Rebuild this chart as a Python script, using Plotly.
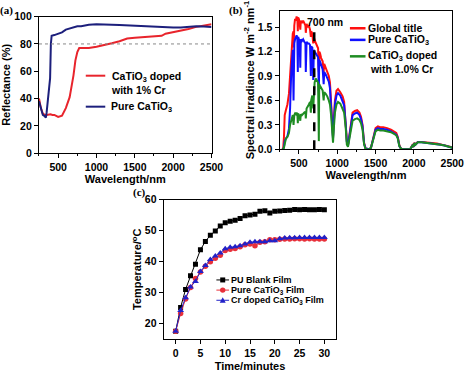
import plotly.graph_objects as go

W, H = 474, 375

# ---------------- Panel (a): reflectance ----------------
wl_doped = [250, 275, 300, 325, 350, 375, 400, 425, 450, 500, 550, 600, 650, 700, 725, 750, 775,
            800, 850, 875, 900, 1000, 1100, 1200, 1300, 1400, 1500, 1600, 1700, 1800, 1850,
            1900, 2000, 2100, 2200, 2300, 2400, 2500]
refl_doped = [40, 33, 29, 28, 28, 28.5, 28.5, 28, 28, 26.5, 27.5, 33, 41, 57, 68, 74, 77,
              77, 77, 77.5, 77, 78, 79, 80.5, 82, 84, 84.5, 85, 85.5, 86, 86,
              87.5, 88.5, 89.5, 91, 92.5, 93.5, 94.5]

wl_pure = [250, 275, 300, 325, 340, 350, 370, 385, 395, 405, 415, 450, 500, 550, 600, 650, 700,
           750, 800, 850, 875, 900, 1000, 1100, 1200, 1300, 1400, 1500, 1600, 1700, 1800,
           1900, 2000, 2100, 2200, 2300, 2400, 2500]
refl_pure = [38, 32, 28, 27, 26, 30, 40, 48, 55, 80, 86, 86.5, 87.5, 88.5, 90.5, 91.5, 92.5,
             93, 93, 93.5, 94, 94, 94.5, 94.5, 94, 93.8, 93.5, 93.3, 93, 93, 92.8,
             92.3, 92, 92, 92.5, 93, 92.8, 92.5]

# ---------------- Panel (b): spectral irradiance ----------------
wl_b = [280, 295, 305, 315, 330, 350, 370, 385, 400, 410,
        420, 430, 432, 440, 450, 460, 470, 480, 486, 490,
        500, 510, 518, 525, 540, 555, 570, 585, 590, 600,
        615, 630, 645, 656, 660, 675, 687, 695, 705, 720,
        735, 750, 760, 765, 775, 790, 810, 823, 830, 850,
        870, 890, 905, 920, 935, 945, 955, 970, 990, 1010,
        1040, 1070, 1090, 1110, 1125, 1140, 1160, 1180, 1200, 1230,
        1260, 1290, 1310, 1330, 1350, 1370, 1400, 1420, 1440, 1460,
        1480, 1500, 1530, 1560, 1600, 1650, 1700, 1740, 1770, 1790,
        1810, 1830, 1850, 1950, 1960, 1980, 1995, 2005, 2020, 2050,
        2100, 2150, 2200, 2250, 2300, 2350, 2400, 2450, 2480, 2500]
irr_global = [0, 0.01, 0.15, 0.42, 0.48, 0.55, 0.68, 0.9, 1.2, 1.35,
              1.42, 1.45, 1.25, 1.52, 1.6, 1.58, 1.63, 1.6, 1.45, 1.62,
              1.6, 1.55, 1.47, 1.58, 1.55, 1.58, 1.55, 1.52, 1.43, 1.54,
              1.5, 1.52, 1.47, 1.38, 1.45, 1.42, 1.3, 1.38, 1.34, 1.3,
              1.27, 1.24, 0.95, 1.2, 1.18, 1.12, 1.08, 0.95, 1.05, 1.0,
              0.95, 0.9, 0.82, 0.6, 0.3, 0.15, 0.35, 0.6, 0.72, 0.74,
              0.7, 0.65, 0.58, 0.35, 0.1, 0.05, 0.2, 0.35, 0.45, 0.47,
              0.48, 0.45, 0.4, 0.3, 0.08, 0.01, 0, 0, 0.02, 0.1,
              0.2, 0.26, 0.28, 0.27, 0.27, 0.26, 0.24, 0.22, 0.2, 0.15,
              0.05, 0.01, 0, 0, 0.02, 0.05, 0.03, 0.08, 0.06, 0.09,
              0.09, 0.085, 0.085, 0.08, 0.07, 0.06, 0.05, 0.04, 0.03, 0.02]
irr_pure = [0, 0, 0.03, 0.1, 0.13, 0.16, 0.25, 0.5, 0.95, 1.15,
            1.22, 0.6, 1.1, 1.3, 1.35, 1.38, 1.4, 1.35, 0.95, 1.38,
            1.36, 1.32, 1.0, 1.35, 1.33, 1.35, 1.32, 1.3, 0.95, 1.32,
            1.3, 1.3, 1.28, 0.9, 1.26, 1.25, 0.85, 1.22, 1.2, 1.17,
            1.15, 1.13, 0.7, 1.1, 1.08, 1.03, 0.98, 0.8, 0.95, 0.92,
            0.88, 0.83, 0.75, 0.55, 0.27, 0.13, 0.32, 0.55, 0.66, 0.69,
            0.66, 0.6, 0.54, 0.32, 0.09, 0.04, 0.18, 0.32, 0.42, 0.44,
            0.45, 0.42, 0.37, 0.28, 0.07, 0.01, 0, 0, 0.02, 0.09,
            0.18, 0.24, 0.26, 0.25, 0.25, 0.24, 0.22, 0.2, 0.18, 0.14,
            0.04, 0.01, 0, 0, 0.02, 0.045, 0.03, 0.075, 0.055, 0.085,
            0.085, 0.08, 0.08, 0.075, 0.065, 0.056, 0.047, 0.037, 0.028, 0.019]
irr_doped = [0, 0, 0.02, 0.08, 0.13, 0.15, 0.2, 0.3, 0.36, 0.4,
             0.42, 0.3, 0.38, 0.42, 0.44, 0.43, 0.45, 0.43, 0.32, 0.44,
             0.42, 0.4, 0.35, 0.43, 0.42, 0.44, 0.45, 0.46, 0.38, 0.5,
             0.52, 0.55, 0.58, 0.45, 0.6, 0.66, 0.5, 0.72, 0.82, 0.87,
             0.85, 0.82, 0.1, 0.8, 0.78, 0.75, 0.72, 0.6, 0.7, 0.68,
             0.65, 0.6, 0.55, 0.42, 0.2, 0.08, 0.25, 0.45, 0.55, 0.58,
             0.56, 0.5, 0.45, 0.27, 0.06, 0.03, 0.15, 0.27, 0.35, 0.37,
             0.38, 0.36, 0.32, 0.24, 0.06, 0.0, 0, 0, 0.02, 0.08,
             0.17, 0.22, 0.24, 0.23, 0.23, 0.22, 0.21, 0.19, 0.17, 0.13,
             0.04, 0.01, 0, 0, 0.02, 0.045, 0.03, 0.075, 0.055, 0.085,
             0.085, 0.08, 0.08, 0.075, 0.065, 0.056, 0.047, 0.037, 0.028, 0.019]
marker_wl = 700

# ---------------- Panel (c): temperature ----------------
minutes = [0, 1, 2, 3, 4, 5, 6, 7, 8, 9, 10, 11, 12, 13, 14, 15, 16, 17, 18, 19, 20,
           21, 22, 23, 24, 25, 26, 27, 28, 29, 30]
temp_blank = [17.5, 25.2, 31.0, 35.4, 39.1, 43.8, 46.5, 48.5, 49.9, 51.5, 52.5, 53.0, 53.3, 53.9,
              54.8, 55.0, 55.3, 56.2, 56.4, 55.7, 56.2, 56.3, 56.5, 56.6, 56.8, 56.7, 56.8, 56.7,
              56.7, 56.8, 56.7]
temp_pure = [17.5, 23.2, 27.9, 31.6, 34.5, 36.6, 38.5, 39.9, 41.1, 42.0, 43.6, 44.0, 44.2, 44.8,
             45.4, 45.7, 45.1, 46.2, 46.4, 47.0, 47.0, 47.2, 47.3, 47.3, 47.4, 47.4, 47.3, 47.4,
             47.3, 47.3, 47.3]
temp_doped = [17.5, 24.2, 28.3, 31.8, 33.6, 36.8, 38.7, 40.7, 41.8, 42.8, 44.1, 44.6, 44.8, 45.1,
              45.7, 46.2, 46.4, 46.4, 46.4, 46.7, 46.7, 47.4, 47.6, 47.7, 47.7, 47.8, 47.8, 47.8,
              47.8, 47.8, 47.8]

# ---------------- styling ----------------
FAM = "Liberation Sans, Arial, sans-serif"
TICKFONT = dict(family=FAM, size=10.5, color="black", weight="bold")
TITLEFONT = dict(family=FAM, size=11, color="black", weight="bold")
LEGFONT = dict(family=FAM, size=10.5, color="black", weight="bold")

RED_A, NAVY = "#e8242c", "#1c1f7c"
RED_B, BLUE_B, GREEN_B = "#ff1010", "#1010ff", "#1e8c22"
RED_C, BLUE_C = "#e8303a", "#2222c8"


def px(x):
    return x / W


def py(y):
    return 1 - y / H


def axis(domain, rng, anchor, title, standoff, **kw):
    d = dict(domain=domain, range=rng, anchor=anchor, showline=True, linecolor="black",
             linewidth=1.3, mirror=True, ticks="outside", ticklen=4, tickwidth=1.2,
             tickcolor="black", showgrid=False, zeroline=False, tickfont=TICKFONT,
             title=dict(text=title, font=TITLEFONT, standoff=standoff))
    d.update(kw)
    return d


fig = go.Figure()

# panel a
fig.add_trace(go.Scatter(x=wl_doped, y=refl_doped, mode="lines", xaxis="x", yaxis="y",
                         line=dict(color=RED_A, width=2), name="CaTiO3 doped with 1% Cr"))
fig.add_trace(go.Scatter(x=wl_pure, y=refl_pure, mode="lines", xaxis="x", yaxis="y",
                         line=dict(color=NAVY, width=2), name="Pure CaTiO3"))
# panel b
fig.add_trace(go.Scatter(x=wl_b, y=irr_global, mode="lines", xaxis="x2", yaxis="y2",
                         line=dict(color=RED_B, width=2), name="Global title"))
fig.add_trace(go.Scatter(x=wl_b, y=irr_pure, mode="lines", xaxis="x2", yaxis="y2",
                         line=dict(color=BLUE_B, width=2), name="Pure CaTiO3"))
fig.add_trace(go.Scatter(x=wl_b, y=irr_doped, mode="lines", xaxis="x2", yaxis="y2",
                         line=dict(color=GREEN_B, width=2), name="CaTiO3 doped with 1.0% Cr"))
# panel c
fig.add_trace(go.Scatter(x=minutes, y=temp_blank, mode="lines+markers", xaxis="x3", yaxis="y3",
                         line=dict(color="black", width=1),
                         marker=dict(symbol="square", size=5, color="black"), name="PU Blank Film"))
fig.add_trace(go.Scatter(x=minutes, y=temp_pure, mode="lines+markers", xaxis="x3", yaxis="y3",
                         line=dict(color=RED_C, width=1),
                         marker=dict(symbol="circle", size=5.5, color=RED_C), name="Pure CaTiO3 Film"))
fig.add_trace(go.Scatter(x=minutes, y=temp_doped, mode="lines+markers", xaxis="x3", yaxis="y3",
                         line=dict(color=BLUE_C, width=1),
                         marker=dict(symbol="triangle-up", size=6, color=BLUE_C),
                         name="Cr doped CaTiO3 Film"))

fig.update_layout(
    width=W, height=H, margin=dict(l=0, r=0, t=0, b=0),
    paper_bgcolor="white", plot_bgcolor="white", showlegend=False,
    xaxis=axis([px(40), px(217)], [250, 2500], "y", "Wavelength/nm", 0, dtick=500, tick0=0,
               minor=dict(ticks="outside", dtick=250, tick0=0, ticklen=2, tickcolor="black")),
    yaxis=axis([py(152), py(11)], [0, 100], "x", "Reflectance (%)", 4, dtick=20),
    xaxis2=axis([px(287), px(464)], [250, 2500], "y2", "Wavelength/nm", 0, dtick=500, tick0=0,
                minor=dict(ticks="outside", dtick=250, tick0=0, ticklen=2, tickcolor="black")),
    yaxis2=axis([py(148), py(5)], [0, 1.7], "x2",
                "Spectral irradiance W m<sup>-2</sup> nm<sup>-1</sup>", 1, dtick=0.3, tick0=0,
                tickformat=".1f"),
    xaxis3=axis([px(168), px(345)], [-2.4, 32.4], "y3", "Time/minutes", 4, dtick=5, tick0=0),
    yaxis3=axis([py(344), py(200)], [15, 60], "x3", "Temperature/<sup>o</sup>C", 0, dtick=10,
                tick0=0),
)

# reference lines
fig.add_shape(type="line", xref="x domain", yref="y", x0=0, x1=1, y0=80, y1=80,
              line=dict(color="#888888", width=1, dash="dot"))
fig.add_shape(type="line", xref="x2", yref="y2", x0=marker_wl, x1=marker_wl, y0=0, y1=1.45,
              line=dict(color="black", width=2.5, dash="dash"))
fig.add_annotation(xref="x2", yref="y2", x=835, y=1.56, text="700 nm", showarrow=False,
                   font=LEGFONT)

# ---------------- manual legends ----------------
def leg_line(x0, x1, y, color, width):
    fig.add_shape(type="line", xref="paper", yref="paper", x0=px(x0), x1=px(x1), y0=py(y),
                  y1=py(y), line=dict(color=color, width=width))


def leg_text(x, y, text, font=LEGFONT):
    fig.add_annotation(xref="paper", yref="paper", x=px(x), y=py(y), text=text, showarrow=False,
                       xanchor="left", yanchor="middle", align="left", font=font)


# panel a legend
leg_line(88, 108, 72, RED_A, 2)
leg_text(112, 79.5, "CaTiO<sub>3</sub> doped<br>with 1% Cr")
leg_line(88, 108, 104, NAVY, 2)
leg_text(112, 104, "Pure CaTiO<sub>3</sub>")

# panel b legend
leg_line(359, 375, 23, RED_B, 2.5)
leg_text(376, 23, "Global title")
leg_line(359, 375, 35, BLUE_B, 2.5)
leg_text(376, 35, "Pure CaTiO<sub>3</sub>")
leg_line(359, 375, 52, GREEN_B, 2.5)
leg_text(376, 57.5, "CaTiO<sub>3</sub> doped<br> with 1.0% Cr")

# panel c legend
CFONT = dict(family=FAM, size=9, color="black", weight="bold")
for yy, col, label in [(283, "black", "PU Blank Film"),
                       (293.5, RED_C, "Pure CaTiO<sub>3</sub> Film"),
                       (304, BLUE_C, "Cr doped CaTiO<sub>3</sub> Film")]:
    leg_line(222, 235, yy, col, 1)
    leg_text(235, yy, label, CFONT)

cx = px(228.5)
fig.add_shape(type="rect", xref="paper", yref="paper", xsizemode="pixel", ysizemode="pixel",
              xanchor=cx, yanchor=py(283), x0=-2.5, x1=2.5, y0=-2.5, y1=2.5,
              fillcolor="black", line=dict(width=0))
fig.add_shape(type="circle", xref="paper", yref="paper", xsizemode="pixel", ysizemode="pixel",
              xanchor=cx, yanchor=py(293.5), x0=-2.7, x1=2.7, y0=-2.7, y1=2.7,
              fillcolor=RED_C, line=dict(width=0))
fig.add_shape(type="path", xref="paper", yref="paper", xsizemode="pixel", ysizemode="pixel",
              xanchor=cx, yanchor=py(304), path="M -3,-2.5 L 3,-2.5 L 0,3 Z",
              fillcolor=BLUE_C, line=dict(width=0))

# panel labels
PFONT = dict(family="Liberation Serif, Times New Roman, serif", size=11, color="black",
             weight="bold")
for x, y, t in [(-2, 5, "(a)"), (233, 5, "(b)"), (134, 193, "(c)")]:
    fig.add_annotation(xref="paper", yref="paper", x=px(x), y=py(y), text=t, showarrow=False,
                       xanchor="left", yanchor="middle", font=PFONT)

fig.write_html("out.html", config={"displayModeBar": False},
               post_script="document.body.style.margin='0';document.body.style.padding='0';"
                           "document.documentElement.style.overflow='hidden';")
